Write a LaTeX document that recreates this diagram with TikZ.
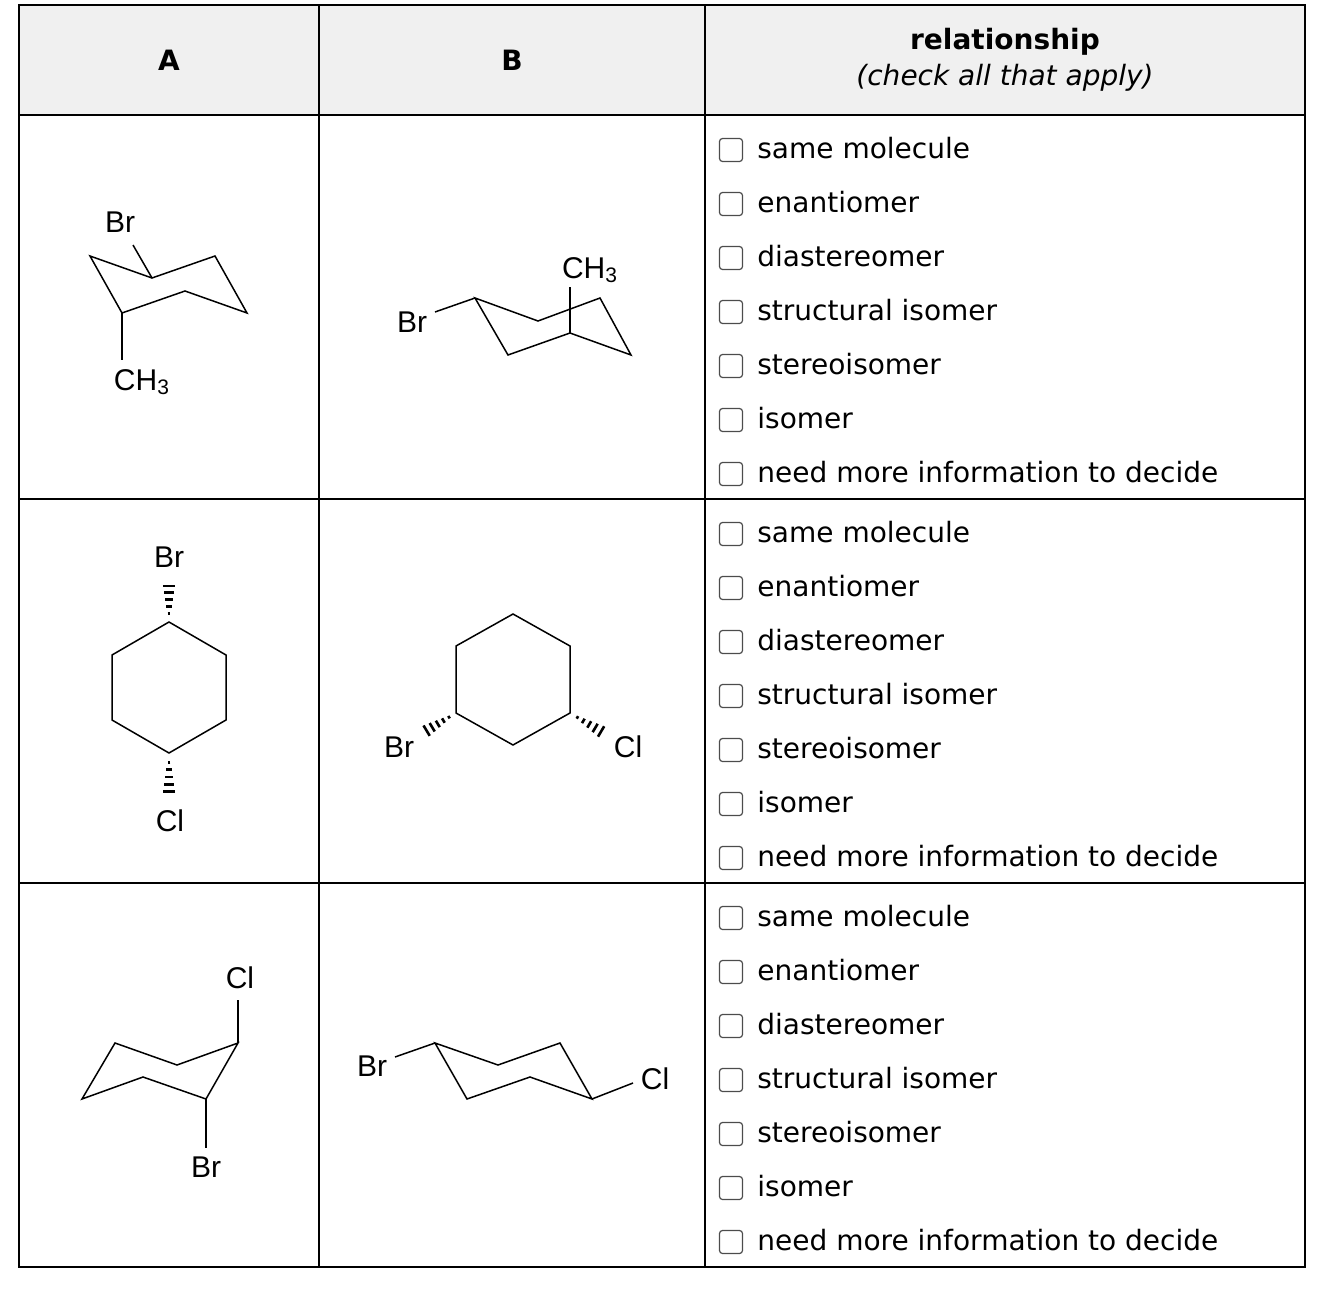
\documentclass[tikz,border=0pt]{standalone}
\usepackage{fontspec}
\setmainfont{DejaVu Sans}
\newfontfamily\chemfont{Liberation Sans}
\usetikzlibrary{calc}
\tikzset{
  grid/.style={line width=1pt},
  bond/.style={line width=0.75pt,line join=miter},
  opt/.style={anchor=west,font=\fontsize{14}{16}\selectfont,inner sep=0pt},
  cbox/.style={draw=black!70,line width=0.6pt,rounded corners=1.5pt,minimum size=11.5pt,inner sep=0pt},
  atom/.style={font=\chemfont\fontsize{15}{17}\selectfont,inner sep=0pt},
  hdr/.style={font=\bfseries\fontsize{14}{17}\selectfont,align=center}
}
\newcommand\hashbond[2]{%
  \foreach \t in {0.2,0.36,...,1.0}{%
    \path (#1) -- (#2) coordinate[pos=\t] (hh);
    \draw[line width=1.3pt] ($(hh)!{\t*3.6pt}!90:(#2)$) -- ($(hh)!{\t*3.6pt}!-90:(#2)$);
  }}
\begin{document}
\begin{tikzpicture}[x=0.5pt,y=-0.5pt]
\useasboundingbox (0,0) rectangle (1323,1311);
\fill[black!6] (19,5) rectangle (1305,115);
\draw[grid] (19,5) rectangle (1305,1267);
\foreach \y in {115,499,883} \draw[grid] (19,\y) -- (1305,\y);
\foreach \x in {319,705} \draw[grid] (\x,5) -- (\x,1267);
\node[hdr] (hA) at (169,60) {A};
\node[hdr] (hB) at (512,60) {B};
\node[hdr] (hR) at (1005,60) {relationship\\[1pt]{\mdseries\itshape (check all that apply)}};
% options
\foreach \r/\y in {1/148,2/532,3/916}{
  \foreach \k/\txt in {0/same molecule,1/enantiomer,2/diastereomer,3/structural isomer,4/stereoisomer,5/isomer,6/need more information to decide}{
    \node[cbox] (cb\r\k) at (731,\y+\k*54+2) {};
    \node[opt] (op\r\k) at (757,\y+\k*54) {\txt};
  }
}
% Row 1 A
\coordinate (a1) at (90,256); \coordinate (a2) at (152,278); \coordinate (a3) at (215,256);
\coordinate (a4) at (247,313); \coordinate (a5) at (185,291); \coordinate (a6) at (122,313);
\draw[bond] (a1)--(a2)--(a3)--(a4)--(a5)--(a6)--cycle;
\node[atom] (aBr) at (120,222) {Br};
\node[atom] (aMe) at (142,382) {CH\textsubscript{3}};
\draw[bond] (a2) -- (133,245);
\draw[bond] (a6) -- (122,360);
% Row 1 B
\coordinate (b1) at (475,298); \coordinate (b2) at (538,321); \coordinate (b3) at (600,298);
\coordinate (b4) at (631,355); \coordinate (b5) at (570,333); \coordinate (b6) at (508,355);
\draw[bond] (b1)--(b2)--(b3)--(b4)--(b5)--(b6)--cycle;
\node[atom] (bBr) at (412,322) {Br};
\node[atom] (bMe) at (590,270) {CH\textsubscript{3}};
\draw[bond] (b1) -- (435,312);
\draw[bond] (b5) -- (570,287);
% Row 2 A
\coordinate (c1) at (169,622); \coordinate (c2) at (226,655); \coordinate (c3) at (226,720);
\coordinate (c4) at (169,753); \coordinate (c5) at (112,720); \coordinate (c6) at (112,655);
\draw[bond] (c1)--(c2)--(c3)--(c4)--(c5)--(c6)--cycle;
\node[atom] (cBr) at (169,557) {Br};
\node[atom] (cCl) at (170,821) {Cl};
\coordinate (cBe) at (169,579); \coordinate (cCe) at (169,799);
\hashbond{c1}{cBe}
\hashbond{c4}{cCe}
% Row 2 B
\coordinate (d1) at (513,614); \coordinate (d2) at (570,646); \coordinate (d3) at (570,713);
\coordinate (d4) at (513,745); \coordinate (d5) at (456,713); \coordinate (d6) at (456,646);
\draw[bond] (d1)--(d2)--(d3)--(d4)--(d5)--(d6)--cycle;
\node[atom] (dBr) at (399,747) {Br};
\node[atom] (dCl) at (628,747) {Cl};
\coordinate (dBe) at (421,734); \coordinate (dCe) at (607,735);
\hashbond{d5}{dBe}
\hashbond{d3}{dCe}
% Row 3 A
\coordinate (e1) at (115,1043); \coordinate (e2) at (177,1065); \coordinate (e3) at (238,1043);
\coordinate (e4) at (206,1099); \coordinate (e5) at (143,1077); \coordinate (e6) at (82,1099);
\draw[bond] (e1)--(e2)--(e3)--(e4)--(e5)--(e6)--cycle;
\node[atom] (eCl) at (240,978) {Cl};
\node[atom] (eBr) at (206,1167) {Br};
\draw[bond] (e3) -- (238,1000);
\draw[bond] (e4) -- (206,1148);
% Row 3 B
\coordinate (f1) at (435,1043); \coordinate (f2) at (498,1065); \coordinate (f3) at (560,1043);
\coordinate (f4) at (592,1099); \coordinate (f5) at (530,1077); \coordinate (f6) at (467,1099);
\draw[bond] (f1)--(f2)--(f3)--(f4)--(f5)--(f6)--cycle;
\node[atom] (fBr) at (372,1066) {Br};
\node[atom] (fCl) at (655,1079) {Cl};
\draw[bond] (f1) -- (395,1057);
\draw[bond] (f4) -- (633,1083);
\end{tikzpicture}
\end{document}
